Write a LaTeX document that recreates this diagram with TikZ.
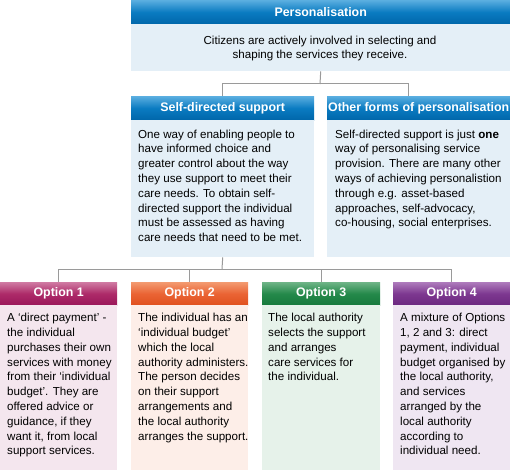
\documentclass[tikz,border=0pt]{standalone}
\usepackage{fontspec}
\setmainfont{Liberation Sans}
\definecolor{bluetop}{HTML}{5AAEE0}
\definecolor{bluemid}{HTML}{0A7BC1}
\definecolor{bluebot}{HTML}{0066AA}
\definecolor{bluebody}{HTML}{E4EFF7}
\definecolor{oatop}{HTML}{CF7AA2}
\definecolor{oamid}{HTML}{AD2A69}
\definecolor{oabot}{HTML}{9A175A}
\definecolor{oabody}{HTML}{F4E6EE}
\definecolor{obtop}{HTML}{F39A70}
\definecolor{obmid}{HTML}{EA6434}
\definecolor{obbot}{HTML}{E0501E}
\definecolor{obbody}{HTML}{FDEEE8}
\definecolor{octop}{HTML}{6FB487}
\definecolor{ocmid}{HTML}{24894A}
\definecolor{ocbot}{HTML}{177A3D}
\definecolor{ocbody}{HTML}{E6F2EA}
\definecolor{odtop}{HTML}{AE7BBC}
\definecolor{odmid}{HTML}{7D3890}
\definecolor{odbot}{HTML}{6C2880}
\definecolor{odbody}{HTML}{EFE6F2}
\definecolor{conn}{HTML}{9A9A9A}
\tikzset{
  hdr/.style={anchor=north west, inner sep=0pt, minimum height=24pt, text=white,
    font=\fontsize{12.4}{14}\selectfont\bfseries},
  bodybox/.style={anchor=north west, inner sep=0pt},
  bodytext/.style={anchor=north west, inner sep=0pt, align=left,
    font=\fontsize{11.6}{14.8}\selectfont},
  conline/.style={draw=conn, line width=1pt},
}
\begin{document}
\begin{tikzpicture}[x=1pt,y=-1pt]
\useasboundingbox (0,0) rectangle (510,470);
% top box
\node[hdr, minimum width=379pt, top color=bluetop, bottom color=bluebot, middle color=bluemid] (ph) at (131,0) {Personalisation};
\node[bodybox, minimum width=379pt, minimum height=47pt, fill=bluebody] (pb) at (131,24) {};
\node[align=center, inner sep=0pt, font=\fontsize{11.6}{14.8}\selectfont] (pt) at (320,48.5) {Citizens are actively involved in selecting and\\shaping the services they receive.};
% second row
\node[hdr, minimum width=183pt, top color=bluetop, bottom color=bluebot, middle color=bluemid] (sh) at (131,96) {Self-directed support};
\node[bodybox, minimum width=183pt, minimum height=137pt, fill=bluebody] (sb) at (131,120) {};
\node[bodytext] (st) at (138,129.5) {One way of enabling people to\\have informed choice and\\greater control about the way\\they use support to meet their\\care needs. To obtain self-\\directed support the individual\\must be assessed as having\\care needs that need to be met.};
\node[hdr, minimum width=183pt, top color=bluetop, bottom color=bluebot, middle color=bluemid] (oh) at (327,96) {Other forms of personalisation};
\node[bodybox, minimum width=183pt, minimum height=137pt, fill=bluebody] (ob) at (327,120) {};
\node[bodytext] (ot) at (335,129.5) {Self-directed support is just \textbf{one}\\way of personalising service\\provision. There are many other\\ways of achieving personalistion\\through e.g. asset-based\\approaches, self-advocacy,\\co-housing, social enterprises.};
% options
\node[hdr, minimum width=117pt, minimum height=23pt, top color=oatop, bottom color=oabot, middle color=oamid] (o1h) at (0,282) {Option 1};
\node[bodybox, minimum width=117pt, minimum height=165pt, fill=oabody] (o1b) at (0,305) {};
\node[bodytext] (o1t) at (7,313) {A `direct payment' -\\the individual\\purchases their own\\services with money\\from their `individual\\budget'. They are\\offered advice or\\guidance, if they\\want it, from local\\support services.};
\node[hdr, minimum width=117pt, minimum height=23pt, top color=obtop, bottom color=obbot, middle color=obmid] (o2h) at (131,282) {Option 2};
\node[bodybox, minimum width=117pt, minimum height=165pt, fill=obbody] (o2b) at (131,305) {};
\node[bodytext] (o2t) at (138,313) {The individual has an\\`individual budget'\\which the local\\authority administers.\\The person decides\\on their support\\arrangements and\\the local authority\\arranges the support.};
\node[hdr, minimum width=118pt, minimum height=23pt, top color=octop, bottom color=ocbot, middle color=ocmid] (o3h) at (262,282) {Option 3};
\node[bodybox, minimum width=118pt, minimum height=165pt, fill=ocbody] (o3b) at (262,305) {};
\node[bodytext] (o3t) at (268,313) {The local authority\\selects the support\\and arranges\\care services for\\the individual.};
\node[hdr, minimum width=117pt, minimum height=23pt, top color=odtop, bottom color=odbot, middle color=odmid] (o4h) at (393,282) {Option 4};
\node[bodybox, minimum width=117pt, minimum height=165pt, fill=odbody] (o4b) at (393,305) {};
\node[bodytext] (o4t) at (400,313) {A mixture of Options\\1, 2 and 3: direct\\payment, individual\\budget organised by\\the local authority,\\and services\\arranged by the\\local authority\\according to\\individual need.};
% connectors
\coordinate (j1) at (320,84);
\coordinate (j2) at (222,269);
\draw[conline] (pb.south) -- (j1);
\draw[conline] (j1) -| (sh.north);
\draw[conline] (j1) -| ([xshift=-10pt]oh.north);
\draw[conline] (sb.south) -- (j2);
\draw[conline] (j2) -| (o1h.north);
\draw[conline] (j2) -| (o2h.north);
\draw[conline] (j2) -| (o3h.north);
\draw[conline] (j2) -| (o4h.north);
\end{tikzpicture}
\end{document}
